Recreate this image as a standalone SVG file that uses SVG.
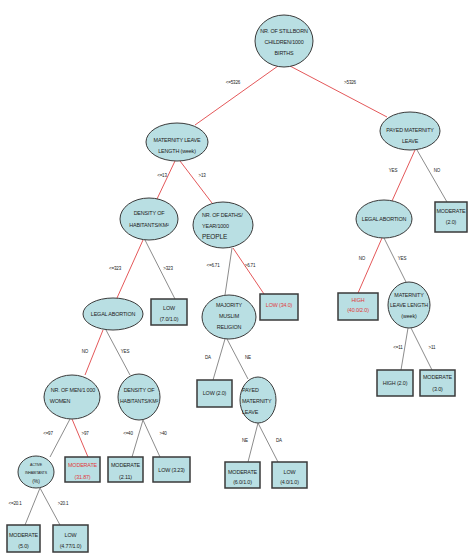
<svg xmlns="http://www.w3.org/2000/svg" width="474" height="557" viewBox="0 0 474 557">
<style>
.n{fill:#b9dfe3;stroke:#3a3a3a;stroke-width:1}
.b{fill:#b9dfe3;stroke:#3a3a3a;stroke-width:1.5}
.r{stroke:#e4585a;stroke-width:1;fill:none}
.g{stroke:#8c8c8c;stroke-width:1;fill:none}
text{font-family:"Liberation Sans Narrow","Liberation Sans",Arial,sans-serif;font-size:5.4px;letter-spacing:-0.15px;fill:#222;text-anchor:middle}
.red{fill:#e03a3c}
.e{font-size:4.5px}
.s{font-size:3.6px}
</style>
<rect width="474" height="557" fill="#fff"/>
<g id="connectors">
<line class="r" x1="278" y1="66" x2="195" y2="125"/>
<line class="r" x1="290" y1="66" x2="387" y2="117"/>
<line class="r" x1="175" y1="161" x2="157" y2="199"/>
<line class="r" x1="180" y1="161" x2="212" y2="203"/>
<line class="r" x1="415" y1="150" x2="392" y2="201"/>
<line class="g" x1="417" y1="150" x2="447" y2="202"/>
<line class="r" x1="143" y1="240" x2="117" y2="298"/>
<line class="g" x1="145" y1="240" x2="175" y2="299"/>
<line class="g" x1="232" y1="248" x2="225" y2="295"/>
<line class="r" x1="233" y1="248" x2="264" y2="294"/>
<line class="r" x1="382" y1="238" x2="358" y2="293"/>
<line class="g" x1="384" y1="238" x2="406" y2="282"/>
<line class="g" x1="408" y1="328" x2="401" y2="370"/>
<line class="g" x1="411" y1="328" x2="432" y2="370"/>
<line class="r" x1="103" y1="330" x2="85" y2="375"/>
<line class="g" x1="106" y1="330" x2="130" y2="375"/>
<line class="g" x1="225" y1="339" x2="213" y2="380"/>
<line class="g" x1="227" y1="339" x2="248" y2="379"/>
<line class="g" x1="70" y1="419" x2="50" y2="457"/>
<line class="r" x1="72" y1="419" x2="88" y2="457"/>
<line class="g" x1="143" y1="420" x2="132" y2="457"/>
<line class="g" x1="143" y1="420" x2="160" y2="457"/>
<line class="g" x1="258" y1="423" x2="248" y2="462"/>
<line class="g" x1="258" y1="423" x2="278" y2="462"/>
<line class="g" x1="40" y1="488" x2="25" y2="525"/>
<line class="g" x1="40" y1="488" x2="60" y2="525"/>
<g class="labels">
<text class="e" x="233" y="84">&lt;=5326</text>
<text class="e" x="350" y="84">&gt;5326</text>
<text class="e" x="162" y="177">&lt;=13</text>
<text class="e" x="202" y="177">&gt;13</text>
<text class="e" x="393" y="172">YES</text>
<text class="e" x="437" y="172">NO</text>
<text class="e" x="115" y="270">&lt;=323</text>
<text class="e" x="168" y="270">&gt;323</text>
<text class="e" x="213" y="267">&lt;=6.71</text>
<text class="e" x="250" y="267">&gt;6.71</text>
<text class="e" x="362" y="260">NO</text>
<text class="e" x="402" y="260">YES</text>
<text class="e" x="398" y="349">&lt;=11</text>
<text class="e" x="432" y="349">&gt;11</text>
<text class="e" x="85" y="353">NO</text>
<text class="e" x="125" y="353">YES</text>
<text class="e" x="208" y="359">DA</text>
<text class="e" x="248" y="359">NE</text>
<text class="e" x="48" y="435">&lt;=97</text>
<text class="e" x="85" y="435">&gt;97</text>
<text class="e" x="128" y="435">&lt;=40</text>
<text class="e" x="163" y="435">&gt;40</text>
<text class="e" x="245" y="442">NE</text>
<text class="e" x="279" y="442">DA</text>
<text class="e" x="15" y="505">&lt;=20.1</text>
<text class="e" x="63" y="505">&gt;20.1</text>
</g>
</g>
<g id="root"><ellipse class="n" cx="284" cy="41" rx="29" ry="26"/><text x="284" y="33">NR. OF STILLBORN</text><text x="284" y="44">CHILDREN/1000</text><text x="284" y="55">BIRTHS</text></g>
<g id="ml"><ellipse class="n" cx="177" cy="142" rx="31" ry="19"/><text x="177" y="142">MATERNITY LEAVE</text><text x="177" y="153">LENGTH (week)</text></g>
<g id="pml"><ellipse class="n" cx="410" cy="131" rx="30" ry="19"/><text x="410" y="132">PAYED MATERNITY</text><text x="410" y="143">LEAVE</text></g>
<g id="density"><ellipse class="n" cx="149" cy="219" rx="29" ry="21"/><text x="149" y="215">DENSITY OF</text><text x="149" y="227">HABITANTS/KM²</text></g>
<g id="deaths"><ellipse class="n" cx="223" cy="225" rx="30" ry="23"/><text x="202" y="217" style="text-anchor:start">NR. OF DEATHS/</text><text x="202" y="228" style="text-anchor:start">YEAR/1000</text><text x="202" y="239" style="text-anchor:start;font-size:6.5px">PEOPLE</text></g>
<g id="low7"><rect class="b" x="151" y="299" width="36" height="26"/><text x="169" y="310">LOW</text><text x="169" y="321">(7.0/1.0)</text></g>
<g id="legalL"><ellipse class="n" cx="113" cy="314" rx="30" ry="16"/><text x="113" y="316">LEGAL ABORTION</text></g>
<g id="muslim"><ellipse class="n" cx="229" cy="317" rx="27" ry="22"/><text x="229" y="307">MAJORITY</text><text x="229" y="318">MUSLIM</text><text x="229" y="329">RELIGION</text></g>
<g id="low34"><rect class="b" x="260" y="294" width="38" height="26"/><text class="red" x="279" y="307">LOW (34.0)</text></g>
<g id="legalR"><ellipse class="n" cx="384" cy="219" rx="28" ry="19"/><text x="384" y="221">LEGAL ABORTION</text></g>
<g id="mod20"><rect class="b" x="435" y="202" width="32" height="30"/><text x="451" y="213">MODERATE</text><text x="451" y="224">(2.0)</text></g>
<g id="high40"><rect class="b" x="338" y="293" width="40" height="27"/><text class="red" x="358" y="302">HIGH</text><text class="red" x="358" y="312">(40.0/2.0)</text></g>
<g id="mllR"><ellipse class="n" cx="409" cy="305" rx="21" ry="23"/><text x="409" y="297">MATERNITY</text><text x="409" y="307" textLength="38" lengthAdjust="spacingAndGlyphs">LEAVE LENGTH</text><text x="409" y="318">(week)</text></g>
<g id="high2"><rect class="b" x="377" y="370" width="36" height="26"/><text x="395" y="385">HIGH (2.0)</text></g>
<g id="mod3"><rect class="b" x="420" y="370" width="35" height="26"/><text x="437.5" y="379">MODERATE</text><text x="437.5" y="391">(3.0)</text></g>
<g id="men"><ellipse class="n" cx="72" cy="397" rx="28" ry="22"/><text x="73" y="392">NR. OF MEN/1 000</text><text x="60" y="403">WOMEN</text></g>
<g id="densityL"><ellipse class="n" cx="139" cy="397" rx="21" ry="23"/><text x="139" y="392">DENSITY OF</text><text x="139" y="403" textLength="38" lengthAdjust="spacingAndGlyphs">HABITANTS/KM²</text></g>
<g id="low2"><rect class="b" x="197" y="380" width="35" height="27"/><text x="214.5" y="395">LOW (2.0)</text></g>
<g id="pmlLow"><ellipse class="n" cx="258" cy="400" rx="18" ry="23"/><text x="242" y="392" style="text-anchor:start">PAYED</text><text x="242" y="403" style="text-anchor:start">MATERNITY</text><text x="242" y="414" style="text-anchor:start">LEAVE</text></g>
<g id="mod6"><rect class="b" x="225" y="462" width="35" height="26"/><text x="242.5" y="474">MODERATE</text><text x="242.5" y="484">(6.0/1.0)</text></g>
<g id="low4"><rect class="b" x="272" y="462" width="35" height="26"/><text x="289.5" y="474">LOW</text><text x="289.5" y="484">(4.0/1.0)</text></g>
<g id="active"><ellipse class="n" cx="36" cy="472" rx="18" ry="16"/><text class="s" x="36" y="466">ACTIVE</text><text class="s" x="36" y="474">INHABITANTS</text><text x="36" y="483" style="font-size:5px">(%)</text></g>
<g id="mod31"><rect class="b" x="65" y="457" width="35" height="25"/><text class="red" x="82.5" y="467">MODERATE</text><text class="red" x="82.5" y="479">(31.87)</text></g>
<g id="mod211"><rect class="b" x="108" y="457" width="35" height="25"/><text x="125.5" y="467">MODERATE</text><text x="125.5" y="479">(2.11)</text></g>
<g id="low323"><rect class="b" x="153" y="457" width="37" height="25"/><text x="171.5" y="472">LOW (3.23)</text></g>
<g id="mod5"><rect class="b" x="7" y="525" width="33" height="27"/><text x="23.5" y="537">MODERATE</text><text x="23.5" y="548">(5.0)</text></g>
<g id="low477"><rect class="b" x="53" y="525" width="35" height="27"/><text x="70.5" y="537">LOW</text><text x="70.5" y="548">(4.77/1.0)</text></g>
</svg>
